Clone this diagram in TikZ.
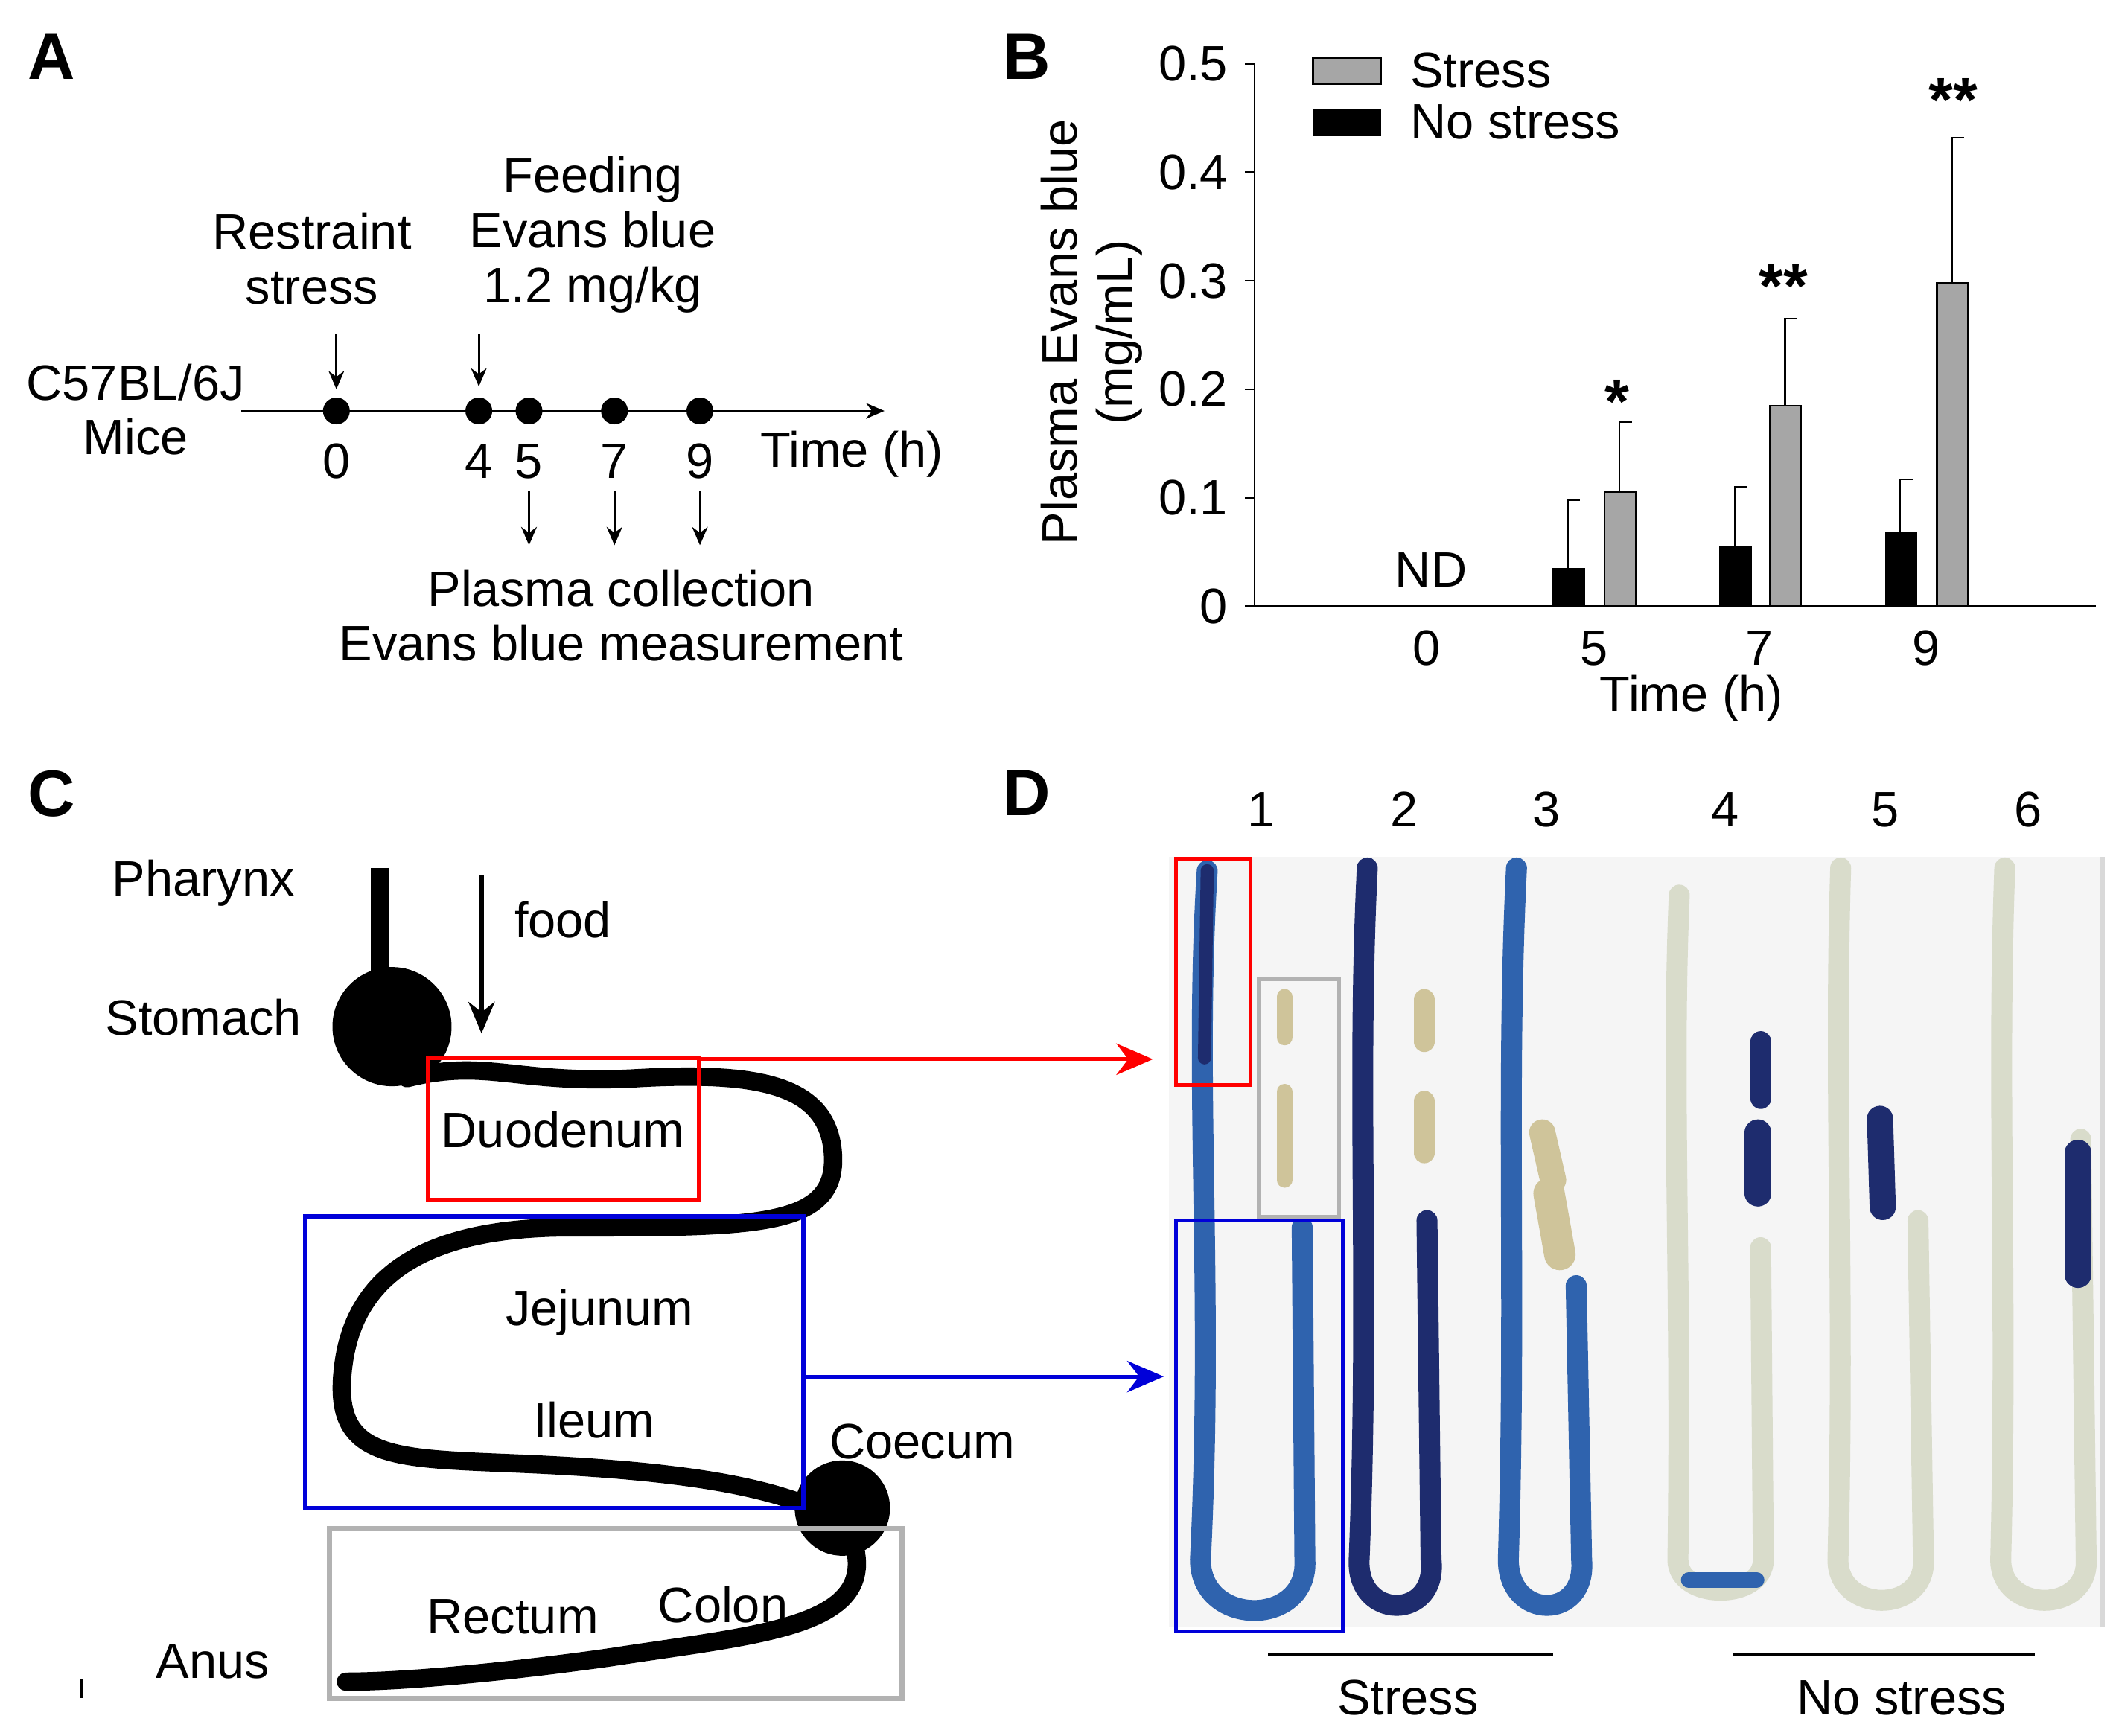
\documentclass[tikz,border=0pt]{standalone}
\usepackage{fontspec}
\setmainfont{Liberation Sans}
\usetikzlibrary{arrows.meta}
\begin{document}
\begin{tikzpicture}[x=0.01822cm,y=-0.01822cm,
 lab/.style={font=\fontsize{19}{21}\selectfont,align=center},
 big/.style={font=\fontsize{25}{27}\selectfont\bfseries},
 ar/.style={-{Stealth[length=7pt,width=6pt]},line width=0.8pt},
 dot/.style={circle,fill=black,inner sep=0pt,minimum size=0.36cm},
 gut/.style={line width=7pt,line cap=round},
 strip/.style={line width=8pt,line cap=round}]
\useasboundingbox (0,0) rectangle (1560,1280);
\node[big] (la) at (38,42) {A};
\node[big] (lb) at (757,42) {B};
\node[big] (lc) at (38,585) {C};
\node[big] (ld) at (757,585) {D};
% ---- Panel A
\coordinate (ts) at (178,303); \coordinate (te) at (652,303);
\draw[ar] (ts) -- (te);
\foreach \x/\t in {248/0,353/4,390/5,453/7,516/9}{
 \node[dot] (d\t) at (\x,303) {};
 \node[lab] (n\t) at (\x,340) {\t};}
\node[lab] (th) at (628,335) {Time (h)};
\node[lab] (mice) at (100,302) {C57BL/6J\\Mice};
\node[lab] (rs) at (230,191) {Restraint\\stress};
\node[lab] (fe) at (437,173) {Feeding\\Evans blue\\1.2 mg/kg};
\coordinate (r1) at (248,246); \coordinate (r2) at (248,287);
\draw[ar] (r1) -- (r2);
\coordinate (f1) at (353,246); \coordinate (f2) at (353,285);
\draw[ar] (f1) -- (f2);
\foreach \x/\t in {390/5,453/7,516/9}{
 \coordinate (u\t) at (\x,362); \coordinate (v\t) at (\x,402);
 \draw[ar] (u\t) -- (v\t);}
\node[lab] (pc) at (458,454) {Plasma collection\\Evans blue measurement};
% ---- Panel B
\coordinate (o) at (925,447);
\coordinate (yt) at (925,48); \coordinate (xe) at (1545,447);
\draw[line width=0.7pt] (yt) -- (o) -- (xe);
\foreach \v/\s in {0/0,1/0.1,2/0.2,3/0.3,4/0.4,5/0.5}{
 \draw[line width=0.7pt] (918,447-80*\v) -- (925,447-80*\v);
 \node[lab,anchor=east] (y\v) at (912,447-80*\v) {\s};}
\foreach \x/\t in {1052/0,1175/5,1297/7,1420/9}
 \node[lab] (x\t) at (\x,478) {\t};
\node[lab] (bt) at (1247,515) {Time (h)};
\node[lab,rotate=90] (yl) at (805,245) {Plasma Evans blue\\(mg/mL)};
\node[lab] (nd) at (1055,420) {ND};
\foreach \xb/\vb/\eb/\xg/\vg/\eg in {1145/0.035/0.098/1183/0.105/0.17,1268/0.055/0.11/1305/0.185/0.265,1390/0.068/0.117/1428/0.298/0.432}{
 \draw[line width=0.6pt] (\xb+11,447-800*\vb) -- (\xb+11,447-800*\eb) -- +(9,0);
 \draw[line width=0.6pt] (\xg+11,447-800*\vg) -- (\xg+11,447-800*\eg) -- +(9,0);
 \filldraw[fill=black,draw=black] (\xb,447) rectangle (\xb+23,447-800*\vb);
 \filldraw[fill=black!35,draw=black,line width=0.6pt] (\xg,447) rectangle (\xg+23,447-800*\vg);}
\node[lab,font=\fontsize{24}{26}\selectfont\bfseries] (s1) at (1192,296) {*};
\node[lab,font=\fontsize{24}{26}\selectfont\bfseries] (s2) at (1315,211) {**};
\node[lab,font=\fontsize{24}{26}\selectfont\bfseries] (s3) at (1440,74) {**};
\filldraw[fill=black!35,draw=black,line width=0.6pt] (968,43) rectangle (1018,62);
\node[lab,anchor=west] (lg1) at (1033,52) {Stress};
\filldraw[fill=black] (968,81) rectangle (1018,100);
\node[lab,anchor=west] (lg2) at (1033,90) {No stress};
% ---- Panel C
\node[lab] (ph) at (150,651) {Pharynx};
\node[lab] (fo) at (415,678) {food};
\node[lab] (st) at (150,750) {Stomach};
\draw[line width=7pt] (280,640) -- (280,725);
\node[circle,fill=black,minimum size=1.6cm,inner sep=0pt] (stom) at (289,757) {};
\coordinate (fa) at (355,645); \coordinate (fb) at (355,762);
\draw[-{Stealth[length=12pt,width=10pt]},line width=2pt] (fa) -- (fb);
\draw[gut] (300,795) .. controls (360,780) and (380,800) .. (470,795)
 .. controls (560,790) and (610,800) .. (614,850)
 .. controls (618,905) and (560,905) .. (420,905)
 .. controls (300,905) and (255,950) .. (252,1020)
 .. controls (250,1080) and (300,1075) .. (400,1080)
 .. controls (500,1085) and (560,1095) .. (600,1112);
\node[circle,fill=black,minimum size=1.28cm,inner sep=0pt] (coe) at (621,1112) {};
\draw[gut] (630,1140) .. controls (645,1200) and (560,1205) .. (450,1222)
 .. controls (380,1232) and (300,1240) .. (255,1240);
\node[draw=red,line width=1.6pt,minimum width=3.64cm,minimum height=1.91cm,inner sep=0pt] (rb) at (415.5,832.5) {};
\node[draw=blue!85!black,line width=1.6pt,minimum width=6.69cm,minimum height=3.92cm,inner sep=0pt] (bb) at (408.5,1004.5) {};
\node[draw=black!30,line width=2pt,minimum width=7.69cm,minimum height=2.28cm,inner sep=0pt] (gb) at (454,1189.5) {};
\node[lab] (du) at (415,833) {Duodenum};
\node[lab] (je) at (442,968) {Jejunum};
\node[lab] (il) at (438,1047) {Ileum};
\node[lab] (co) at (680,1063) {Coecum};
\node[lab] (re) at (378,1192) {Rectum};
\node[lab] (cl) at (533,1183) {Colon};
\node[lab] (an) at (157,1225) {Anus};
\draw[line width=0.8pt] (60,1238) -- (60,1252);
% ---- Panel D photo
\fill[blue!4!black!4] (862,632) rectangle (1552,1200);
\fill[black!15] (1548,632) rectangle (1552,1200);
\coordinate (ra) at (515,781); \coordinate (rt) at (850,781);
\draw[red,line width=1.5pt,-{Stealth[length=14pt,width=12pt]}] (ra) -- (rt);
\coordinate (ba) at (592,1015); \coordinate (bt2) at (858,1015);
\draw[blue!85!black,line width=1.5pt,-{Stealth[length=14pt,width=12pt]}] (ba) -- (bt2);
% strips
\definecolor{sb}{HTML}{2F63AE}\definecolor{nv}{HTML}{1E2C6E}
\definecolor{pl}{HTML}{D9DCCB}\definecolor{tn}{HTML}{CFC49A}
\draw[strip,color=sb] (890,642) .. controls (880,800) and (895,950) .. (885,1150) .. controls (885,1200) and (965,1200) .. (962,1150) -- (960,905);
\draw[strip,color=nv,line width=5pt] (890,642) -- (888,780);
\draw[strip,color=nv] (1008,640) .. controls (1000,800) and (1010,950) .. (1002,1150) .. controls (1000,1195) and (1060,1195) .. (1055,1150) -- (1052,900);
\draw[strip,color=tn] (1050,737) -- (1050,768);
\draw[strip,color=tn] (1050,812) -- (1050,850);
\draw[strip,color=tn,line width=6pt] (947,735) -- (947,765);
\draw[strip,color=tn,line width=6pt] (947,805) -- (947,870);
\draw[strip,color=sb] (1118,640) .. controls (1110,800) and (1118,950) .. (1112,1150) .. controls (1112,1195) and (1170,1195) .. (1166,1150) -- (1162,948);
\draw[strip,color=tn,line width=10pt] (1137,835) -- (1145,870);
\draw[strip,color=tn,line width=12pt] (1142,880) -- (1150,925);
\draw[strip,color=pl] (1238,660) .. controls (1232,800) and (1240,950) .. (1237,1150) .. controls (1237,1180) and (1300,1180) .. (1300,1150) -- (1298,920);
\draw[strip,color=sb,line width=6pt] (1245,1165) -- (1295,1165);
\draw[strip,color=nv] (1298,768) -- (1298,810);
\draw[strip,color=nv,line width=10pt] (1296,835) -- (1296,880);
\draw[strip,color=pl] (1357,640) .. controls (1352,800) and (1360,950) .. (1355,1150) .. controls (1355,1190) and (1420,1190) .. (1418,1150) -- (1414,900);
\draw[strip,color=nv,line width=10pt] (1386,825) -- (1388,890);
\draw[strip,color=pl] (1478,640) .. controls (1472,800) and (1480,950) .. (1475,1150) .. controls (1475,1190) and (1540,1190) .. (1538,1150) -- (1534,840);
\draw[strip,color=nv,line width=10pt] (1532,850) -- (1532,940);
\node[draw=red,line width=1.5pt,minimum width=1.0cm,minimum height=3.04cm,inner sep=0pt] (dr) at (894.5,716.5) {};
\node[draw=black!30,line width=1.5pt,minimum width=1.08cm,minimum height=3.19cm,inner sep=0pt] (dg) at (957.5,809.5) {};
\node[draw=blue!85!black,line width=1.5pt,minimum width=2.24cm,minimum height=5.52cm,inner sep=0pt] (db) at (928.5,1051.5) {};
\foreach \x/\t in {930/1,1035/2,1140/3,1272/4,1390/5,1495/6}
 \node[lab] (c\t) at (\x,597) {\t};
\coordinate (l1) at (935,1220); \coordinate (l2) at (1145,1220);
\coordinate (l3) at (1278,1220); \coordinate (l4) at (1500,1220);
\draw[line width=0.8pt] (l1) -- (l2); \draw[line width=0.8pt] (l3) -- (l4);
\node[lab] (sl) at (1038,1252) {Stress};
\node[lab] (nsl) at (1402,1252) {No stress};
\end{tikzpicture}
\end{document}
